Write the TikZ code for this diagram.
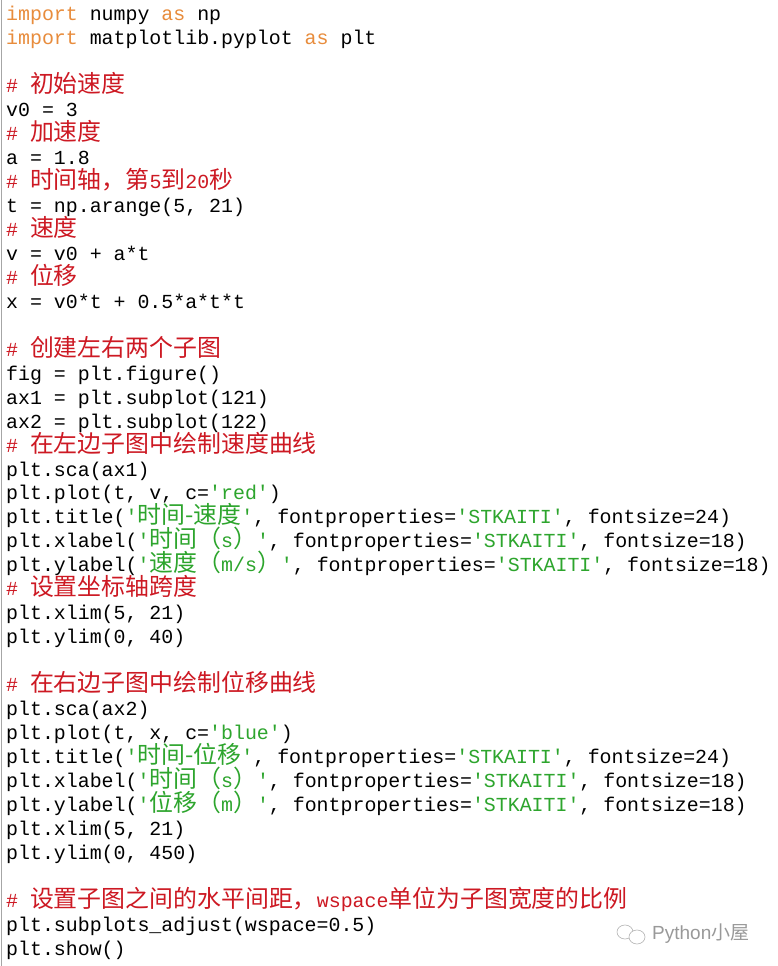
\documentclass[tikz,border=0pt]{standalone}
\usepackage{fontspec}
\newfontfamily\mono{Liberation Mono}
\newfontfamily\cjkf{Noto Sans CJK SC}
\newfontfamily\wm{Liberation Sans}
\definecolor{kw}{RGB}{232,140,60}
\definecolor{cm}{RGB}{205,25,35}
\definecolor{st}{RGB}{45,165,45}
\newcommand\Z[1]{{\fontsize{23.9}{24}\cjkf #1}}
\newcommand\K[1]{\textcolor{kw}{#1}}
\newcommand\CM[1]{\textcolor{cm}{#1}}
\newcommand\ST[1]{\textcolor{st}{#1}}
\newcommand\q{\char39}
\newcommand\codeline[2]{\node[anchor=base west,inner sep=0pt,font=\fontsize{19.9}{24}\mono] at (6,{966-21-23.95*(#1-1)}) {#2};}
\begin{document}
\begin{tikzpicture}[x=1pt,y=1pt]
\useasboundingbox (0,0) rectangle (777,966);
\fill[white] (0,0) rectangle (777,966);
\draw[gray!70,line width=1.5pt] (1.5,0) -- (1.5,966);
\codeline{1}{\K{import} numpy \K{as} np}
\codeline{2}{\K{import} matplotlib.pyplot \K{as} plt}
\codeline{4}{\CM{\# \Z{初始速度}}}
\codeline{5}{v0 = 3}
\codeline{6}{\CM{\# \Z{加速度}}}
\codeline{7}{a = 1.8}
\codeline{8}{\CM{\# \Z{时间轴，第}5\Z{到}20\Z{秒}}}
\codeline{9}{t = np.arange(5, 21)}
\codeline{10}{\CM{\# \Z{速度}}}
\codeline{11}{v = v0 + a*t}
\codeline{12}{\CM{\# \Z{位移}}}
\codeline{13}{x = v0*t + 0.5*a*t*t}
\codeline{15}{\CM{\# \Z{创建左右两个子图}}}
\codeline{16}{fig = plt.figure()}
\codeline{17}{ax1 = plt.subplot(121)}
\codeline{18}{ax2 = plt.subplot(122)}
\codeline{19}{\CM{\# \Z{在左边子图中绘制速度曲线}}}
\codeline{20}{plt.sca(ax1)}
\codeline{21}{plt.plot(t, v, c=\ST{\q red\q})}
\codeline{22}{plt.title(\ST{\q\Z{时间-速度}\q}, fontproperties=\ST{\q STKAITI\q}, fontsize=24)}
\codeline{23}{plt.xlabel(\ST{\q\Z{时间（}s\Z{）}\q}, fontproperties=\ST{\q STKAITI\q}, fontsize=18)}
\codeline{24}{plt.ylabel(\ST{\q\Z{速度（}m/s\Z{）}\q}, fontproperties=\ST{\q STKAITI\q}, fontsize=18)}
\codeline{25}{\CM{\# \Z{设置坐标轴跨度}}}
\codeline{26}{plt.xlim(5, 21)}
\codeline{27}{plt.ylim(0, 40)}
\codeline{29}{\CM{\# \Z{在右边子图中绘制位移曲线}}}
\codeline{30}{plt.sca(ax2)}
\codeline{31}{plt.plot(t, x, c=\ST{\q blue\q})}
\codeline{32}{plt.title(\ST{\q\Z{时间-位移}\q}, fontproperties=\ST{\q STKAITI\q}, fontsize=24)}
\codeline{33}{plt.xlabel(\ST{\q\Z{时间（}s\Z{）}\q}, fontproperties=\ST{\q STKAITI\q}, fontsize=18)}
\codeline{34}{plt.ylabel(\ST{\q\Z{位移（}m\Z{）}\q}, fontproperties=\ST{\q STKAITI\q}, fontsize=18)}
\codeline{35}{plt.xlim(5, 21)}
\codeline{36}{plt.ylim(0, 450)}
\codeline{38}{\CM{\# \Z{设置子图之间的水平间距，}wspace\Z{单位为子图宽度的比例}}}
\codeline{39}{plt.subplots\_adjust(wspace=0.5)}
\codeline{40}{plt.show()}
% watermark
\draw[gray!60,line width=0.6pt] (625,34) ellipse (8 and 7);
\draw[gray!60,line width=0.6pt,fill=white] (637,29) ellipse (8 and 7);
\node[anchor=base west,inner sep=0pt,text=gray!80,font=\fontsize{19}{22}\wm] (wm) at (652,27) {Python{\cjkf 小屋}};
\end{tikzpicture}
\end{document}
